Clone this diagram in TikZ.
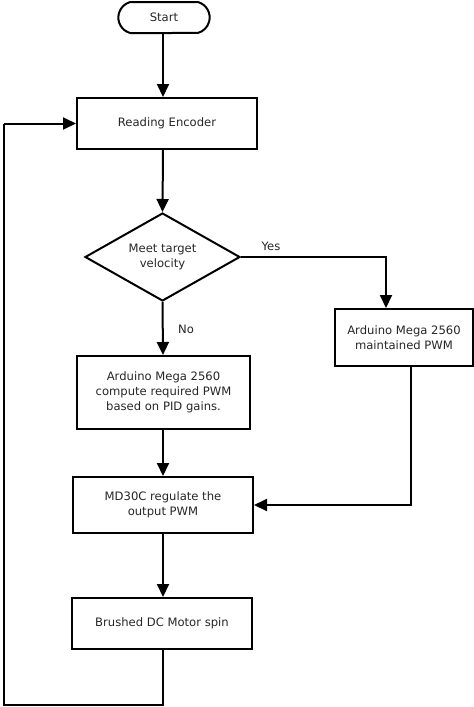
\documentclass[tikz,border=0pt]{standalone}
\usepackage{fontspec}
\setmainfont{DejaVu Sans}
\usetikzlibrary{shapes.geometric,shapes.misc,arrows.meta}
\begin{document}
\begin{tikzpicture}[x=1pt,y=-1pt,
  font=\fontsize{11.6}{15}\selectfont,
  box/.style={draw,line width=2pt,rectangle,align=center,inner sep=2pt,text=black!85},
  term/.style={draw,line width=2pt,rounded rectangle,rounded rectangle arc length=150,minimum width=98pt,minimum height=31pt,text=black!85},
  dia/.style={draw,line width=2pt,diamond,shape aspect=1.76,inner sep=0pt,minimum width=155pt,minimum height=88pt,align=center,text=black!85},
  lab/.style={text=black!85},
  conn/.style={line width=2pt,-{Triangle[length=13pt,width=12pt]}},
  plain/.style={line width=2pt}]
\useasboundingbox (0,0) rectangle (474,707);
\node[term] (start) at (164,17.5) {Start};
\node[box,minimum width=180pt,minimum height=51pt] (enc) at (167,123.5) {Reading Encoder};
\node[dia] (dec) at (162.5,257) {Meet target\\velocity};
\node[box,minimum width=138pt,minimum height=57pt] (maint) at (404,337.5) {Arduino Mega 2560\\maintained PWM};
\node[box,minimum width=173pt,minimum height=73pt] (comp) at (163.5,392.5) {Arduino Mega 2560\\compute required PWM\\based on PID gains.};
\node[box,minimum width=180pt,minimum height=56pt] (md) at (163,505) {MD30C regulate the\\output PWM};
\node[box,minimum width=180pt,minimum height=51pt] (motor) at (162,623.5) {Brushed DC Motor spin};
\node[lab] (yes) at (271,246) {Yes};
\node[lab] (no) at (186,329) {No};
\coordinate (c1) at (163,0);
\coordinate (yx) at (386,0);
\coordinate (mx) at (411,0);
\coordinate (bot) at (163,705);
\coordinate (lft) at (4,705);
\draw[conn] (c1 |- start.south) -- (c1 |- enc.north);
\draw[conn] (c1 |- enc.south) -- (dec.north);
\draw[conn] (dec.east) -| (yx |- maint.north);
\draw[conn] (dec.south) -- (c1 |- comp.north);
\draw[conn] (c1 |- comp.south) -- (c1 |- md.north);
\draw[conn] (mx |- maint.south) |- (md.east);
\draw[conn] (c1 |- md.south) -- (c1 |- motor.north);
\draw[plain] (c1 |- motor.south) -- (bot) -- (lft) -- (lft |- enc.west);
\draw[conn] (lft |- enc.west) -- (enc.west);
\end{tikzpicture}
\end{document}
